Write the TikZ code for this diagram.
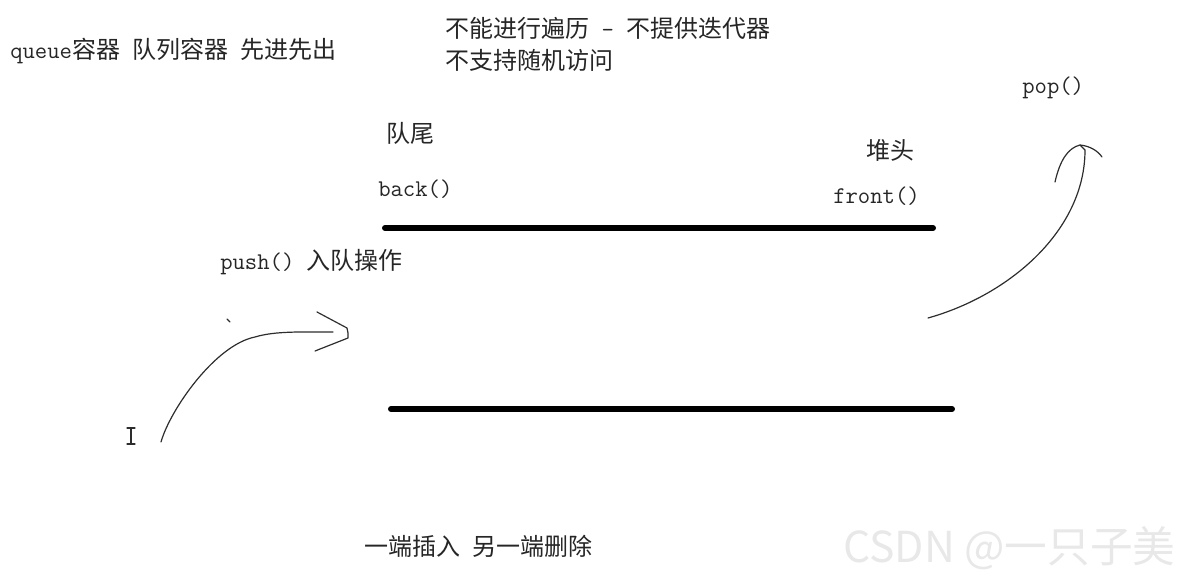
\documentclass[tikz,border=0pt]{standalone}
\usepackage{fontspec}
\setmainfont{Noto Sans CJK SC}
\usepackage{tikz}
\definecolor{inkgray}{RGB}{38,38,38}
\definecolor{pengray}{RGB}{45,45,45}
\definecolor{markgray}{RGB}{232,232,232}

\begin{document}
\begin{tikzpicture}[x=0.75pt,y=0.75pt,yscale=-1,xscale=1,
  txt/.style={anchor=west,inner sep=0pt,text=inkgray,font=\fontsize{18}{21}\selectfont},
  bar/.style={line width=4.5,line cap=round},
  pen/.style={draw=pengray,line width=0.9,line cap=round,line join=round}]
\useasboundingbox (0,0) rectangle (1184,581);

%Queue walls
\coordinate (tailTop) at (385,228);
\coordinate (headTop) at (933,228);
\coordinate (tailBot) at (391,409);
\coordinate (headBot) at (952,409);
\draw [bar] (tailTop) -- (headTop);
\draw [bar] (tailBot) -- (headBot);

%Curve Lines: push arrow
\coordinate (pushStart) at (161,442);
\coordinate (pushBend) at (255,337);
\coordinate (pushEnd) at (333,332);
\coordinate (pushTip) at (348,333);
\draw [pen] (pushStart) .. controls (170,410) and (215,345) .. (pushBend) .. controls (275,331) and (300,332) .. (pushEnd);
\draw [pen] (317,312) -- (347,328) -- (pushTip) -- (348,338) -- (315,351);
\draw [pen] (227,319) -- (230,322);

%Curve Lines: pop arrow
\coordinate (popStart) at (928,318);
\coordinate (popTip) at (1080,145);
\draw [pen] (popStart) .. controls (1010,295) and (1085,230) .. (1085,150) -- (popTip);
\draw [pen] (1055,182) .. controls (1060,160) and (1068,148) .. (popTip) .. controls (1090,146) and (1098,151) .. (1102,157);

%Text cursor
\draw [pen,line width=0.8] (127,428) -- (135,428) (131,428) -- (131,444) (127,444) -- (135,444);

% Text Node
\node (title) [txt] at (10,51) {{\ttfamily queue}容器{\ttfamily\ }队列容器{\ttfamily\ }先进先出};
% Text Node
\node (noIter) [txt] at (445,28) {不能进行遍历{\ttfamily\ -\ }不提供迭代器};
% Text Node
\node (noRand) [txt] at (445,60) {不支持随机访问};
% Text Node
\node (pop) [txt] at (1022,88) {\ttfamily pop()};
% Text Node
\node (tail) [txt] at (386,133) {队尾};
% Text Node
\node (head) [txt] at (866,150) {堆头};
% Text Node
\node (back) [txt] at (378,189) {\ttfamily back()};
% Text Node
\node (front) [txt] at (833,196) {\ttfamily front()};
% Text Node
\node (push) [txt] at (220,262) {{\ttfamily push()\ }入队操作};
% Text Node
\node (ends) [txt] at (364,546) {一端插入{\ttfamily\ }另一端删除};
% Text Node
\node (mark) [anchor=west,inner sep=0pt,text=markgray,font=\fontsize{32}{36}\selectfont] at (843,548) {CSDN @一只子美};

\end{tikzpicture}
\end{document}
